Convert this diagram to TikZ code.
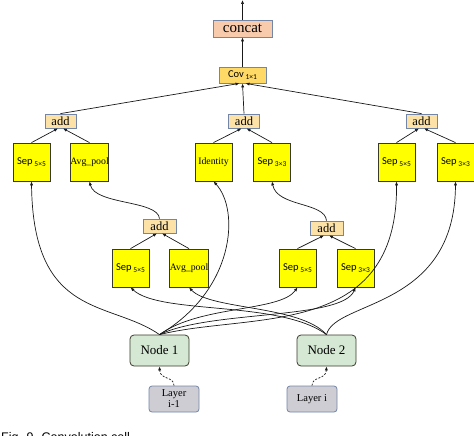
\documentclass[tikz,border=0pt]{standalone}
\usepackage{fontspec}
\setmainfont{Liberation Serif}
\newfontfamily\calfont{Carlito}
\newfontfamily\capfont{Liberation Sans}
\usetikzlibrary{arrows.meta}
\definecolor{yel}{HTML}{FFFF00}
\definecolor{addfill}{HTML}{FCE2A6}
\definecolor{covfill}{HTML}{FFD966}
\definecolor{catfill}{HTML}{F8CBAD}
\definecolor{nodefill}{HTML}{D5E8D4}
\definecolor{layfill}{HTML}{CDCDD3}
\definecolor{blueline}{HTML}{7386A8}
\definecolor{darkline}{HTML}{3A3A2A}
\tikzset{
  opbox/.style={draw=darkline, fill=yel, line width=0.8pt, minimum width=37pt, minimum height=38pt, inner sep=0pt},
  addbox/.style={draw=blueline, fill=addfill, line width=0.8pt, minimum width=31pt, minimum height=14pt, inner sep=0pt, font=\fontsize{12.5}{12.5}\selectfont},
  covbox/.style={draw=blueline, fill=covfill, line width=0.8pt, minimum width=47pt, minimum height=16pt, inner sep=0pt},
  catbox/.style={draw=blueline, fill=catfill, line width=0.8pt, minimum width=59pt, minimum height=17pt, inner sep=0pt, font=\fontsize{15}{15}\selectfont},
  hidbox/.style={draw=darkline, fill=nodefill, line width=0.8pt, rounded corners=4pt, minimum width=59pt, minimum height=31pt, inner sep=0pt, font=\fontsize{13}{13}\selectfont},
  laybox/.style={draw=blueline, fill=layfill, line width=0.8pt, rounded corners=3pt, minimum width=50pt, minimum height=26pt, inner sep=0pt, font=\fontsize{10.5}{11}\selectfont, align=center},
  conn/.style={line width=0.7pt, black!90, -{Latex[length=4pt,width=3.2pt]}},
  dconn/.style={line width=0.7pt, black!90, dashed, dash pattern=on 2pt off 1.5pt, -{Latex[length=4pt,width=3.2pt]}},
  seplbl/.style={font=\calfont\fontsize{10.5}{10.5}\selectfont},
  serlbl/.style={font=\fontsize{9.8}{9.8}\selectfont}
}
\newcommand{\seplab}[1]{Sep\,{\fontsize{7.5}{7.5}\selectfont\raisebox{-1.8pt}{#1}}}
\begin{document}
\begin{tikzpicture}[x=1pt,y=-1pt]
\useasboundingbox (0,0) rectangle (474,436);
% top
\coordinate (out) at (242.5,0);
\node[catbox] (concat) at (242.5,28.5) {concat};
\node[covbox] (cov) at (242.5,75) {\calfont\fontsize{10.5}{10.5}\selectfont Cov\,{\fontsize{7.5}{7.5}\selectfont\raisebox{-1.8pt}{1×1}}};
% top adds
\node[addbox] (addL) at (60.5,121) {add};
\node[addbox] (addM) at (244,121) {add};
\node[addbox] (addR) at (421.5,121) {add};
% top row ops
\node[opbox,seplbl] (t1) at (31.5,162) {\seplab{5×5}};
\node[opbox,serlbl] (t2) at (89.5,162) {Avg\_pool};
\node[opbox,serlbl] (t3) at (213.5,162) {Identity};
\node[opbox,seplbl] (t4) at (272,162) {\seplab{3×3}};
\node[opbox,seplbl] (t5) at (396.5,162) {\seplab{5×5}};
\node[opbox,seplbl] (t6) at (455.5,162) {\seplab{3×3}};
% middle adds
\node[addbox, minimum width=33pt] (maddL) at (159.5,226) {add};
\node[addbox, minimum width=33pt] (maddR) at (326.5,228) {add};
% middle ops
\node[opbox,seplbl] (m1) at (130.5,268) {\seplab{5×5}};
\node[opbox,serlbl] (m2) at (189,268) {Avg\_pool};
\node[opbox,seplbl] (m3) at (297.5,268) {\seplab{5×5}};
\node[opbox,seplbl] (m4) at (355.5,268) {\seplab{3×3}};
% hidden nodes
\node[hidbox] (n1) at (159.5,350.5) {Node 1};
\node[hidbox] (n2) at (326.5,350.5) {Node 2};
\node[laybox] (l1) at (174,399) {Layer\\i-1};
\node[laybox] (l2) at (312,399) {Layer i};
% caption (clipped at bottom, as in the reference)
\node[anchor=base west, inner sep=0pt, font=\capfont\fontsize{12.5}{12.5}\selectfont] (cap) at (1,441) {Fig. 9. Convolution cell};

% straight connectors
\draw[conn] (concat.north) -- (out);
\draw[conn] (cov.north) -- (concat.south);
\draw[conn] (addL.north) -- ([xshift=-3pt]cov.south);
\draw[conn] (addM.north) -- (cov.south);
\draw[conn] (addR.north) -- ([xshift=3pt]cov.south);
\draw[conn] (t1.north) -- ([xshift=-2.5pt]addL.south);
\draw[conn] (t2.north) -- ([xshift=2.5pt]addL.south);
\draw[conn] (t3.north) -- ([xshift=-2.5pt]addM.south);
\draw[conn] (t4.north) -- ([xshift=2.5pt]addM.south);
\draw[conn] (t5.north) -- ([xshift=-2.5pt]addR.south);
\draw[conn] (t6.north) -- ([xshift=2.5pt]addR.south);
\draw[conn] (m1.north) -- ([xshift=-2.5pt]maddL.south);
\draw[conn] (m2.north) -- ([xshift=2.5pt]maddL.south);
\draw[conn] (m3.north) -- ([xshift=-2.5pt]maddR.south);
\draw[conn] (m4.north) -- ([xshift=2.5pt]maddR.south);
% middle adds to top ops
\draw[conn] (maddL.north) .. controls (158,200) and (95,205) .. (t2.south);
\draw[conn] (maddR.north) .. controls (325,202) and (277,207) .. (t4.south);
% Node 1 connectors
\draw[conn] (n1.north) .. controls (110,300) and (33,320) .. (t1.south);
\draw[conn] (n1.north) .. controls (235,290) and (240,210) .. (t3.south);
\draw[conn] (n1.north) .. controls (200,305) and (280,312) .. (m3.south);
\draw[conn] (n1.north) .. controls (210,310) and (342,320) .. (m4.south);
\draw[conn] (n1.north) .. controls (250,312) and (398,340) .. (t5.south);
% Node 2 connectors
\draw[conn] (n2.north) .. controls (280,300) and (160,315) .. (m1.south);
\draw[conn] (n2.north) .. controls (300,305) and (210,310) .. (m2.south);
\draw[conn] (n2.north) .. controls (335,300) and (455,310) .. (t6.south);
% layers
\draw[dconn] (l1.north) .. controls (174,376) and (160,380) .. (n1.south);
\draw[dconn] (l2.north) .. controls (312,376) and (326,380) .. (n2.south);
\end{tikzpicture}
\end{document}
